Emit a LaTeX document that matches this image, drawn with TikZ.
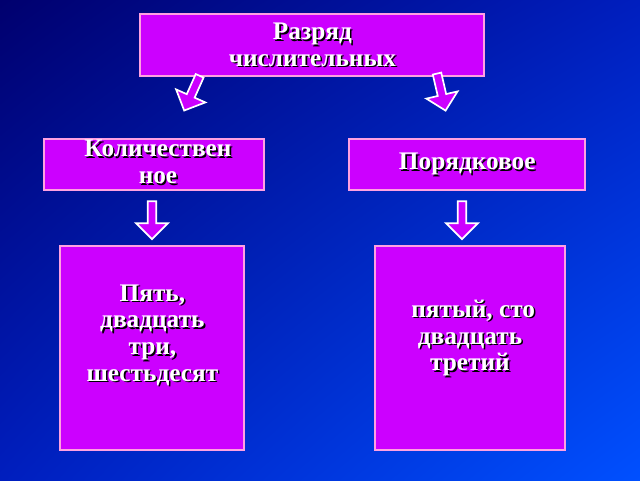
\documentclass[tikz,border=0pt]{standalone}
\usepackage{fontspec}
\setmainfont{Liberation Serif}
\usetikzlibrary{shapes.arrows,positioning,shadings}
\definecolor{boxfill}{RGB}{204,0,255}
\definecolor{boxline}{RGB}{255,160,225}
\definecolor{bgA}{RGB}{0,0,110}
\definecolor{bgB}{RGB}{0,30,190}
\definecolor{bgC}{RGB}{0,80,255}
\newcommand{\shlabel}[3]{%
  \node[lbl, text=black] at ([shift={(0.04,-0.04)}]#1) {#3};
  \node[lbl] (#2) at (#1) {#3};}
\begin{document}
\begin{tikzpicture}[
          box/.style={rectangle, draw=boxline, line width=1.5pt, fill=boxfill},
          lbl/.style={text=white, font=\bfseries\fontsize{18}{19}\selectfont, align=center},
          blockarrow/.style={single arrow, draw=white, line width=1.2pt, fill=boxfill,
            minimum height=0.95cm, minimum width=0.8cm, single arrow head extend=0.2cm, inner sep=1.5pt}
        ]
          \shade[upper left=bgA, upper right=bgB, lower left=bgB, lower right=bgC] (0,0) rectangle (16,12);
          \useasboundingbox (0,0) rectangle (16,12);

          % boxes
          \node[box, minimum width=8.6cm, minimum height=1.55cm] (razryad) at (7.81,10.88) {};
          \node[box, minimum width=5.5cm, minimum height=1.27cm] (kolich) at (3.86,7.89) {};
          \node[box, minimum width=5.9cm, minimum height=1.27cm] (poryad) at (11.68,7.89) {};
          \node[box, minimum width=4.6cm, minimum height=5.1cm] (primer1) at (3.81,3.31) {};
          \node[box, minimum width=4.75cm, minimum height=5.1cm] (primer2) at (11.75,3.31) {};

          % texts
          \shlabel{7.81,10.88}{trazryad}{Разряд\\числительных}
          \shlabel{3.95,7.95}{tkolich}{Количествен\\ное}
          \shlabel{11.68,7.89}{tporyad}{Порядковое}
          \shlabel{3.81,3.62}{tprimer1}{Пять,\\двадцать\\три,\\шестьдесят}
          \shlabel{11.75,3.55}{tprimer2}{\ пятый, сто\\двадцать\\третий}

          % arrows
          \node[blockarrow, rotate=-114] (a1) at (4.82,9.72) {};
          \node[blockarrow, rotate=-77] (a2) at (11.02,9.75) {};
          \node[blockarrow, rotate=-90] (a3) at (3.8,6.55) {};
          \node[blockarrow, rotate=-90] (a4) at (11.55,6.55) {};
        \end{tikzpicture}
\end{document}
